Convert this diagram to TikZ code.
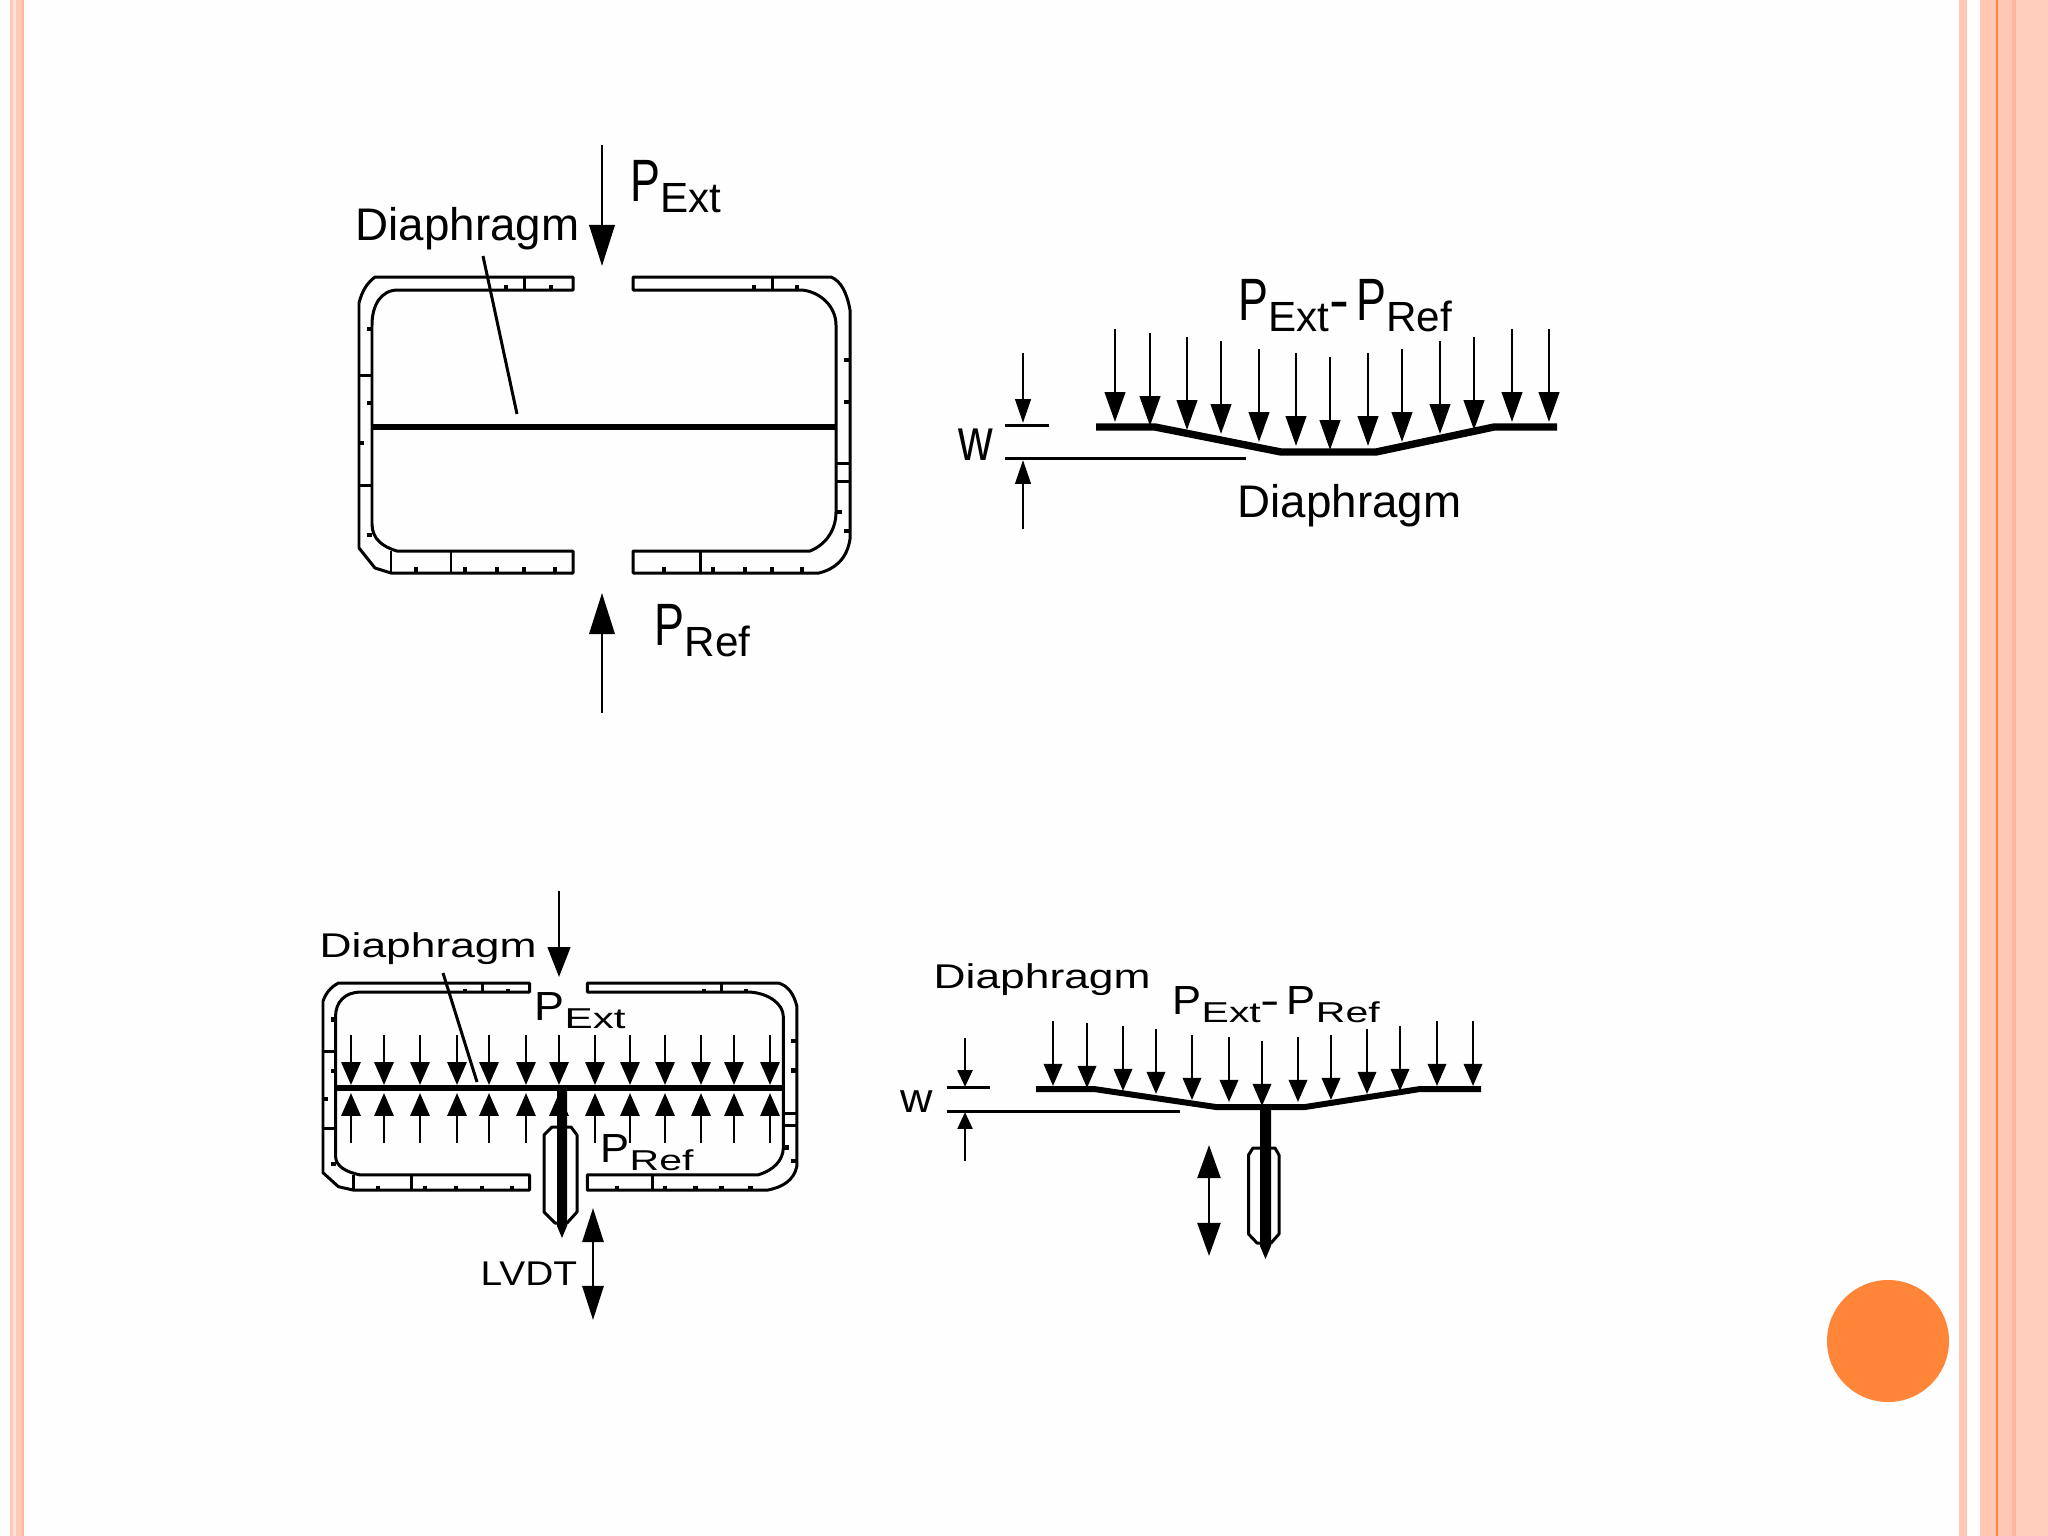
\documentclass[tikz,border=0pt]{standalone}
\usepackage{fontspec}
\setmainfont{Liberation Sans}
\usetikzlibrary{arrows.meta}
\definecolor{salmon}{HTML}{FFC7B4}
\definecolor{salmonpale}{HTML}{FFCFBB}
\definecolor{salmondark}{HTML}{FDB79E}
\definecolor{dotorange}{HTML}{FF8538}
\newcommand{\lblfont}{\fontsize{13}{15}\selectfont}
\newcommand{\subfont}{\fontsize{12}{14}\selectfont}
\newcommand{\symfont}{\fontsize{17}{19}\selectfont}
\newcommand{\pres}[1]{\scalebox{0.75}[1]{P}\raisebox{-3.4pt}{\subfont #1}}
\tikzset{
  lbl/.style={anchor=base west,inner sep=0pt,font=\lblfont,transform shape},
  sym/.style={anchor=base west,inner sep=0pt,font=\symfont,transform shape},
  wall/.style={line width=0.85pt,line join=round},
  speck/.style={line width=1.2pt},
  thin line/.style={line width=0.85pt},
  force/.style 2 args={line width=0.8pt,-{Triangle[length=#1,width=#2]}},
  stroke/.style 2 args={line width=0.8pt,{Triangle[length=#1,width=#2]}-{Triangle[length=#1,width=#2]}},
  housing/.pic={
    \draw[wall] (214,0) -- (16,0) .. controls (8,6) and (3,14) .. (0,26) -- (0,271) -- (16,291) -- (32,296)
      -- (214,296) -- (214,274) -- (38,274) .. controls (24,270) and (13,262) .. (13,247) -- (13,48)
      .. controls (13,28) and (22,13) .. (39,13) -- (214,13) -- cycle;
    \draw[wall] (274,0) -- (472,0) .. controls (482,4) and (488,16) .. (491,33) -- (491,262)
      .. controls (488,282) and (476,292) .. (460,296) -- (274,296) -- (274,274) -- (451,274)
      .. controls (466,268) and (477,254) .. (477,235) -- (477,48) .. controls (477,30) and (462,15) .. (443,13)
      -- (274,13) -- cycle;
    \draw[wall] (32,274) -- (32,296);
    \foreach \tx in {165,413} \draw[wall] (\tx,0) -- (\tx,13);
    \foreach \tx in {147,192,395,438} \draw[speck] (\tx,13) -- (\tx,8);
    \foreach \tx in {92,341} \draw[wall] (\tx,274) -- (\tx,296);
    \foreach \tx in {57,106,138,165,196,305,354,386,413,443} \draw[speck] (\tx,296) -- (\tx,290);
    \foreach \ty in {98,208} \draw[wall] (0,\ty) -- (13,\ty);
    \foreach \ty in {52,126,258} \draw[speck] (13,\ty) -- (8,\ty);
    \draw[speck] (0,166) -- (5,166);
    \foreach \ty in {186,204} \draw[wall] (477,\ty) -- (491,\ty);
    \foreach \ty in {83,125,254} \draw[speck] (491,\ty) -- (485,\ty);
    \draw[speck] (477,235) -- (483,235);
    \draw[line width=1.7pt] (13,150) -- (477,150);
  }
}
\begin{document}
\begin{tikzpicture}[x=0.01cm,y=-0.01cm]
  \useasboundingbox (0,0) rectangle (2048,1536);
  % slide edges
  \fill[white!99.5!black] (0,0) rectangle (2048,1536);
  \fill[salmon] (10,0) rectangle (13,1536);
  \fill[salmonpale!60!white] (13,0) rectangle (16,1536);
  \fill[salmon] (16,0) rectangle (22,1536);
  \fill[salmondark] (22,0) rectangle (24,1536);
  \fill[salmon] (1959,0) rectangle (1967,1536);
  \fill[salmon] (1980,0) rectangle (2012,1536);
  \fill[dotorange] (1996,0) rectangle (1998,1536);
  \fill[salmondark] (2012,0) rectangle (2016,1536);
  \fill[salmonpale] (2016,0) rectangle (2048,1536);
  \fill[dotorange] (1888,1341) circle (61);

  % upper left
  \pic at (359,277) {housing};
  \coordinate (extA) at (602,145);
  \coordinate (extTipA) at (602,266);
  \coordinate (refA) at (602,713);
  \coordinate (refTipA) at (602,593);
  \coordinate (leadA) at (483,256);
  \coordinate (leadTipA) at (517,414);
  \draw[force={11.7pt}{7.2pt}] (extA) -- (extTipA);
  \draw[force={11.7pt}{7.2pt}] (refA) -- (refTipA);
  \draw[thin line] (leadA) -- (leadTipA);
  \node[lbl] (diaA) at (355,240) {Diaphragm};
  \node[sym] (extLblA) at (630,201) {\pres{Ext}};
  \node[sym] (refLblA) at (654,645) {\pres{Ref}};

  % upper right
  \draw[line width=2.1pt] (1096,427) -- (1155,427) -- (1281,452) -- (1376,452) -- (1494,427) -- (1557,427);
  \foreach \ax/\ay in {1115/329,1150/333,1187/337,1221/341,1259/349,1296/353,1330/357,1368/353,1402/349,1440/341,1474/337,1512/329,1549/329}
    \draw[force={8.5pt}{5.8pt}] (\ax,\ay) -- ++(0,93);
  \coordinate (wTopB) at (1023,353);
  \coordinate (wTopTipB) at (1023,423);
  \coordinate (wLowB) at (1023,529);
  \coordinate (wLowTipB) at (1023,460);
  \draw[force={6.8pt}{4.4pt}] (wTopB) -- (wTopTipB);
  \draw[force={6.8pt}{4.4pt}] (wLowB) -- (wLowTipB);
  \draw[thin line] (1005,425) -- (1049,425);
  \draw[thin line] (1005,458) -- (1246,458);
  \node[sym,xscale=0.8] (wB) at (958,460) {w};
  \node[sym] (diffB) at (1238,320) {\pres{Ext}-\hspace{2pt}\pres{Ref}};
  \node[lbl] (diaB) at (1237,517) {Diaphragm};

  % lower left
  \pic[xscale=0.965,yscale=0.7] at (323,983) {housing};
  \coordinate (extC) at (559,891);
  \coordinate (extTipC) at (559,977);
  \coordinate (leadC) at (443,973);
  \coordinate (leadTipC) at (477,1082);
  \draw[force={8.5pt}{6.4pt}] (extC) -- (extTipC);
  \draw[thin line] (leadC) -- (leadTipC);
  \foreach \ax in {351,384,420,457,489,526,559,595,630,665,701,734,770} {
    \draw[force={6.5pt}{5.4pt}] (\ax,1035) -- (\ax,1085);
    \draw[force={6.5pt}{5.4pt}] (\ax,1143) -- (\ax,1093);
  }
  \fill (557,1089) -- (567,1089) -- (567,1226) -- (562,1238) -- (557,1226) -- cycle;
  \draw[wall] (544,1135) -- (552,1127) -- (571,1127) -- (577,1135) -- (577,1212) -- (567,1223) -- (555,1223) -- (544,1212) -- cycle;
  \coordinate (strokeTopC) at (593,1208);
  \coordinate (strokeLowC) at (593,1320);
  \draw[stroke={9.7pt}{6pt}] (strokeTopC) -- (strokeLowC);
  \node[lbl,xscale=0.97,yscale=0.75] (diaC) at (319,957) {Diaphragm};
  \node[sym,yscale=0.68] (extLblC) at (534,1020) {\pres{Ext}};
  \node[sym,xscale=0.97,yscale=0.68] (refLblC) at (600,1162) {\pres{Ref}};
  \node[lbl,xscale=0.85,yscale=0.75] (lvdtC) at (480,1285) {LVDT};

  % lower right
  \draw[line width=1.7pt] (1036,1089) -- (1094,1089) -- (1216,1107) -- (1305,1107) -- (1420,1089) -- (1481,1089);
  \foreach \ax/\ay in {1053/1021,1087/1023,1123/1026,1156/1029,1192/1035,1229/1037,1262/1041,1298/1037,1331/1035,1367/1029,1400/1026,1437/1021,1473/1021}
    \draw[force={6.3pt}{5.2pt}] (\ax,\ay) -- ++(0,65);
  \coordinate (wTopD) at (965,1038);
  \coordinate (wTopTipD) at (965,1087);
  \coordinate (wLowD) at (965,1161);
  \coordinate (wLowTipD) at (965,1112);
  \draw[force={4.8pt}{4.2pt}] (wTopD) -- (wTopTipD);
  \draw[force={4.8pt}{4.2pt}] (wLowD) -- (wLowTipD);
  \draw[thin line] (947,1087) -- (990,1087);
  \draw[thin line] (947,1111) -- (1180,1111);
  \fill (1260,1107) -- (1271,1107) -- (1271,1246) -- (1265.5,1259) -- (1260,1246) -- cycle;
  \draw[wall] (1248.5,1155) -- (1253,1148) -- (1275,1148) -- (1279,1155) -- (1279,1234) -- (1271,1243) -- (1257,1243) -- (1248.5,1234) -- cycle;
  \coordinate (strokeTopD) at (1209,1145);
  \coordinate (strokeLowD) at (1209,1256);
  \draw[stroke={9.4pt}{6.5pt}] (strokeTopD) -- (strokeLowD);
  \node[lbl,xscale=0.97,yscale=0.75] (diaD) at (933,988) {Diaphragm};
  \node[sym,xscale=0.97,yscale=0.68] (diffD) at (1172,1014) {\pres{Ext}-\hspace{2pt}\pres{Ref}};
  \node[sym,xscale=0.75,yscale=0.69] (wD) at (900,1112) {w};
\end{tikzpicture}
\end{document}
